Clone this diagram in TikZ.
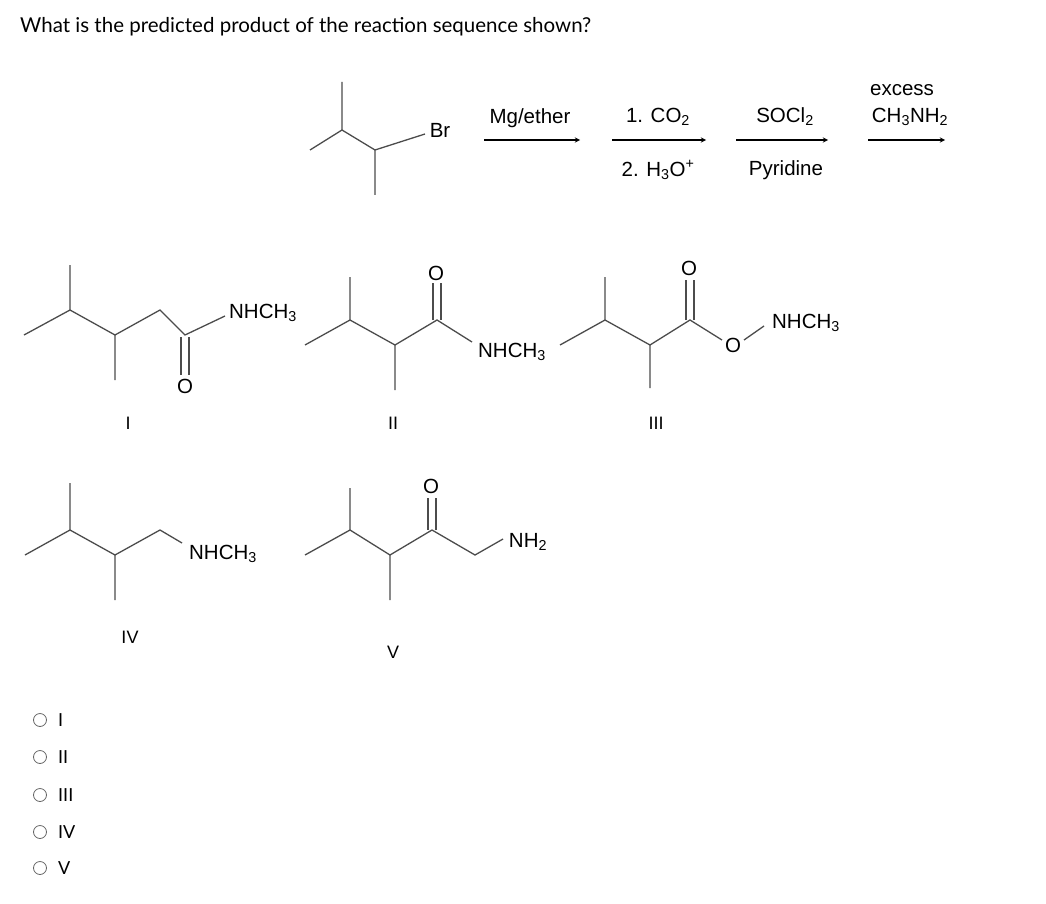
\documentclass[tikz,border=0pt]{standalone}
\usepackage{fontspec}
\setmainfont{Liberation Sans}
\newfontfamily\lato{Lato}
\newcommand{\sbs}[1]{\textsubscript{#1}}
\newcommand{\sps}[1]{\textsuperscript{#1}}
\begin{document}
\begin{tikzpicture}[x=1pt,y=-1pt,
  bd/.style={line width=1.3pt,draw=black!70},
  ch/.style={font=\fontsize{20.5}{21}\selectfont,inner sep=0pt},
  lab/.style={font=\fontsize{18}{19}\selectfont,inner sep=0pt},
  arr/.style={line width=1.3pt,-stealth},
  rad/.style={draw=black!60,line width=0.8pt,circle,minimum size=13pt,inner sep=0pt},
  opt/.style={font=\lato\fontsize{18}{19}\selectfont,anchor=west,inner sep=0pt}]
\useasboundingbox (0,0) rectangle (1046,904);
\node[font=\lato\fontsize{20.5}{21}\selectfont,anchor=west,inner sep=0pt] (q) at (20,27) {What is the predicted product of the reaction sequence shown?};
% starting material
\draw[bd] (342,82)--(342,130) (310,150)--(342,130)--(375,150)--(375,195) (375,150)--(425,134);
\node[ch] (br) at (440,130) {Br};
\node[ch] (mg) at (530,118) {Mg/ether};
\coordinate (a1s) at (484,140); \coordinate (a1e) at (580,140);
\draw[arr] (a1s)--(a1e);
\node[ch] (co2) at (658,117) {1. CO\sbs{2}};
\coordinate (a2s) at (612,140); \coordinate (a2e) at (706,140);
\draw[arr] (a2s)--(a2e);
\node[ch] (h3o) at (658,170) {2. H\sbs{3}O\sps{+}};
\node[ch] (socl) at (785,117) {SOCl\sbs{2}};
\coordinate (a3s) at (736,140); \coordinate (a3e) at (828,140);
\draw[arr] (a3s)--(a3e);
\node[ch] (pyr) at (786,170) {Pyridine};
\node[ch] (exc) at (902,90) {excess};
\node[ch] (mna) at (910,117) {CH\sbs{3}NH\sbs{2}};
\coordinate (a4s) at (868,140); \coordinate (a4e) at (945,140);
\draw[arr] (a4s)--(a4e);
% I
\draw[bd] (70,265)--(70,310) (24,335)--(70,310)--(115,335)--(115,380) (115,335)--(160,310)--(185,335)--(225,316);
\draw[bd] (181,337)--(181,375) (189,337)--(189,375);
\node[ch] (o1) at (185,386) {O};
\node[ch] (n1) at (263,313) {NHCH\sbs{3}};
\node[lab] (l1) at (128,423) {I};
% II
\draw[bd] (350,277)--(350,320) (305,345)--(350,320)--(395,345)--(395,390) (395,345)--(437,320)--(472,342);
\draw[bd] (433,320)--(433,283) (441,320)--(441,283);
\node[ch] (o2) at (436,273) {O};
\node[ch] (n2) at (512,352) {NHCH\sbs{3}};
\node[lab] (l2) at (393,423) {II};
% III
\draw[bd] (605,277)--(605,320) (560,345)--(605,320)--(650,345)--(650,388) (650,345)--(690,320)--(722,340) (744,340)--(764,326);
\draw[bd] (686,320)--(686,280) (694,320)--(694,280);
\node[ch] (o3) at (689,268) {O};
\node[ch] (o3b) at (733,345) {O};
\node[ch] (n3) at (806,323) {NHCH\sbs{3}};
\node[lab] (l3) at (656,423) {III};
% IV
\draw[bd] (70,483)--(70,530) (25,555)--(70,530)--(115,555)--(115,600) (115,555)--(160,530)--(182,543);
\node[ch] (n4) at (223,554) {NHCH\sbs{3}};
\node[lab] (l4) at (130,637) {IV};
% V
\draw[bd] (350,488)--(350,530) (305,555)--(350,530)--(390,555)--(390,600) (390,555)--(432,530)--(475,555)--(503,539);
\draw[bd] (428,530)--(428,498) (436,530)--(436,498);
\node[ch] (o5) at (431,486) {O};
\node[ch] (n5) at (528,542) {NH\sbs{2}};
\node[lab] (l5) at (393,652) {V};
% options
\foreach \y/\t/\n in {720/I/r1,757/II/r2,795/III/r3,832/IV/r4,868/V/r5}{
  \node[rad] (\n) at (40,\y) {};
  \node[opt] (\n t) at (58,\y) {\t};
}
\end{tikzpicture}
\end{document}
